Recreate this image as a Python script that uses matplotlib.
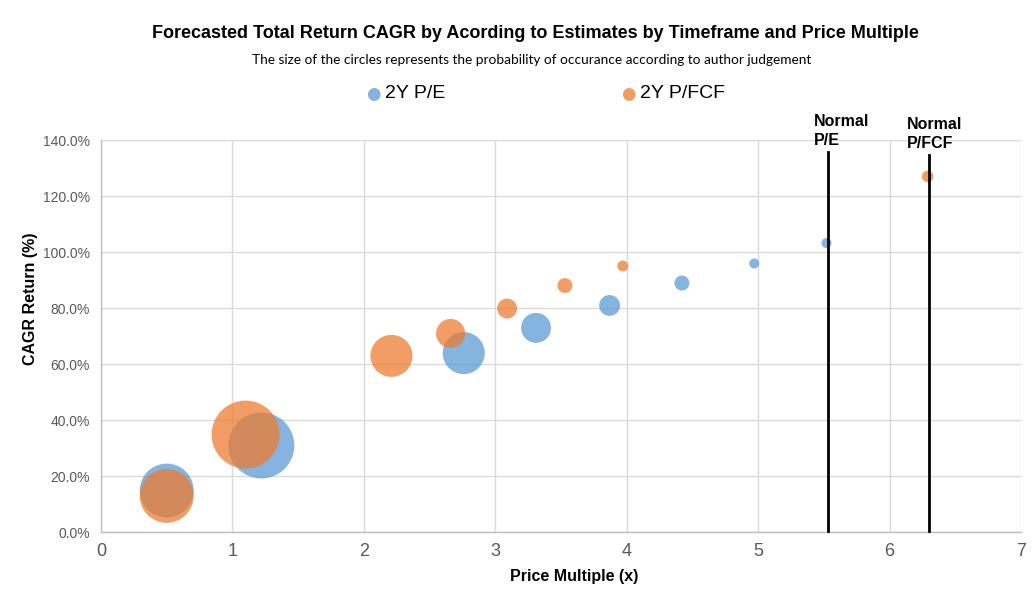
import numpy as np
import matplotlib
matplotlib.use("Agg")
import matplotlib.pyplot as plt
from matplotlib import font_manager as fm

# ---------------- data ----------------
pe_x = [0.50, 1.22, 2.76, 3.31, 3.87, 4.42, 4.97, 5.52]
pe_y = [14.8, 30.9, 63.9, 72.9, 80.9, 88.9, 95.9, 103.2]
pe_prob = [22.0, 33.0, 13.4, 6.8, 3.3, 1.7, 0.76, 0.76]

pfcf_x = [0.50, 1.10, 2.21, 2.66, 3.09, 3.53, 3.97, 6.29]
pfcf_y = [12.9, 34.8, 62.9, 70.9, 79.8, 88.0, 95.0, 127.0]
pfcf_prob = [22.0, 35.0, 13.4, 6.4, 3.0, 1.7, 0.9, 1.0]

normal_pe = 5.53
normal_pfcf = 6.30
normal_line_top = [135.7, 134.6]

x_ticks = [0, 1, 2, 3, 4, 5, 6, 7]
y_ticks = [0, 20, 40, 60, 80, 100, 120, 140]

title = "Forecasted Total Return CAGR by Acording to Estimates by Timeframe and Price Multiple"
subtitle = "The size of the circles represents the probability of occurance according to author judgement"

# ---------------- fonts ----------------
avail = {f.name for f in fm.fontManager.ttflist}
narrow = "Liberation Sans Narrow" if "Liberation Sans Narrow" in avail else "Liberation Sans"
sub_font = "Lato" if "Lato" in avail else "DejaVu Sans"

BLUE = "#5B9BD5"
ORANGE = "#ED7D31"

fig = plt.figure(figsize=(10.34, 6.05), dpi=100)
ax = fig.add_axes([101/1034, 1 - 532/605, (1021-101)/1034, (532-140)/605])

# size scale: radius_px^2 = 33 * prob ; s (pt^2) = (2*r*0.72)^2
def sizes(p):
    return [(2 * 0.72) ** 2 * 33 * v for v in p]

ax.scatter(pe_x, pe_y, s=sizes(pe_prob), color=BLUE, alpha=0.75, linewidths=0, zorder=3)
ax.scatter(pfcf_x, pfcf_y, s=sizes(pfcf_prob), color=ORANGE, alpha=0.75, linewidths=0, zorder=4)

# normal lines
ax.plot([normal_pe, normal_pe], [0.5, normal_line_top[0]], color="black", lw=2, zorder=5, clip_on=False)
ax.plot([normal_pfcf, normal_pfcf], [0.5, normal_line_top[1]], color="black", lw=2, zorder=5, clip_on=False)
ax.text(normal_pe - 0.105, 137.3, "Normal\nP/E", ha="left", va="bottom", fontsize=11.5,
        fontweight="bold", family=narrow, linespacing=1.3, clip_on=False, zorder=6)
ax.text(normal_pfcf - 0.17, 136.2, "Normal\nP/FCF", ha="left", va="bottom", fontsize=11.5,
        fontweight="bold", family=narrow, linespacing=1.3, clip_on=False, zorder=6)

ax.set_xlim(0, 7)
ax.set_ylim(0, 140)
ax.set_xticks(x_ticks)
ax.set_yticks(y_ticks)
ax.set_xticklabels([str(t) for t in x_ticks], fontsize=13, family=narrow, color="#595959")
ax.set_yticklabels([f"{t:.1f}%" for t in y_ticks], fontsize=10, family=narrow, color="#595959")
ax.tick_params(length=0, pad=8)
ax.tick_params(axis="y", pad=8)
ax.grid(True, color="#d9d9d9", lw=1, zorder=0)
ax.set_axisbelow(True)
for s in ["top", "right"]:
    ax.spines[s].set_visible(False)
for s in ["left", "bottom"]:
    ax.spines[s].set_color("#bfbfbf")
    ax.spines[s].set_linewidth(1)

ax.set_xlabel("Price Multiple (x)", fontsize=11.5, fontweight="bold", family=narrow)
ax.xaxis.set_label_coords(0.514, -0.095)
ax.set_ylabel("CAGR Return (%)", fontsize=11.5, fontweight="bold", family=narrow)
ax.yaxis.set_label_coords(-0.068, 0.595)

fig.text(535/1034, 1 - 33/605, title, ha="center", va="center", fontsize=13,
         fontweight="bold", family=narrow)
fig.text(532/1034, 1 - 60/605, subtitle, ha="center", va="center", fontsize=9.8, family=sub_font)

# legend
fig.text(373/1034, 1 - 94/605, "\u25CF", color=BLUE, alpha=0.75, ha="center", va="center", fontsize=12)
fig.text(385/1034, 1 - 94/605, "2Y P/E", ha="left", va="center", fontsize=14, family=narrow)
fig.text(628/1034, 1 - 94/605, "\u25CF", color=ORANGE, alpha=0.75, ha="center", va="center", fontsize=12)
fig.text(640/1034, 1 - 94/605, "2Y P/FCF", ha="left", va="center", fontsize=14, family=narrow)

fig.savefig("out.png", dpi=100)
